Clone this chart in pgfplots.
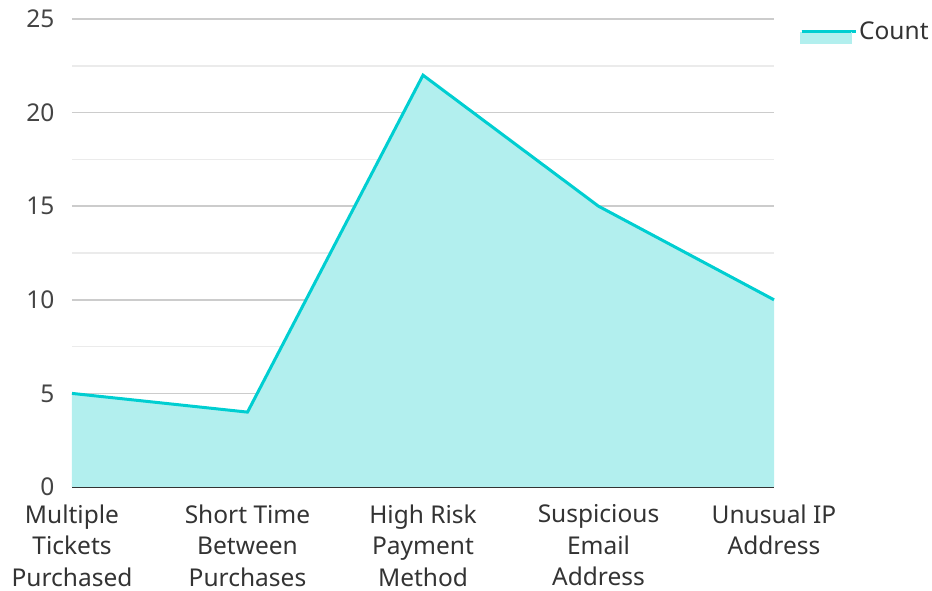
\documentclass[border=0pt]{standalone}
\usepackage{fontspec}
\setmainfont{Noto Sans}
\usepackage{pgfplots}
\pgfplotsset{compat=1.18}
\definecolor{tq}{RGB}{0,206,209}
\definecolor{tqfill}{RGB}{178,239,238}
\definecolor{majg}{RGB}{204,204,204}
\definecolor{ming}{RGB}{235,235,235}
\definecolor{txt}{RGB}{51,51,51}
\begin{document}
\begin{tikzpicture}[x=1pt,y=1pt]
\useasboundingbox (-72pt,-104pt) rectangle (860pt,487pt);
\begin{axis}[
  at={(0,0)}, anchor=south west,
  scale only axis, width=702pt, height=468pt,
  xmin=0, xmax=4, ymin=0, ymax=25,
  xtick={0,1,2,3,4},
  xticklabels={Multiple\\Tickets\\Purchased, Short Time\\Between\\Purchases, High Risk\\Payment\\Method, Suspicious\\Email\\Address, Unusual IP\\Address},
  ytick={0,5,10,15,20,25},
  minor ytick={2.5,7.5,12.5,17.5,22.5},
  major tick length=0pt, minor tick length=0pt,
  ymajorgrids, yminorgrids,
  major grid style={draw=majg, line width=1.6pt},
  minor grid style={draw=ming, line width=1.6pt},
  axis x line*=bottom, axis y line*=left,
  x axis line style={draw=txt, line width=2.2pt, -},
  y axis line style={draw=none},
  /pgf/number format/assume math mode=true,
  tick label style={font=\fontsize{24.5}{31.5}\selectfont, text=txt},
  xticklabel style={align=center, yshift=-14pt},
  yticklabel style={xshift=-14pt, text={rgb,255:red,68;green,68;blue,68}},
  legend style={draw=none, fill=none, at={(1.037,0.972)}, anchor=west, font=\fontsize{24.5}{28}\selectfont, text=txt, inner sep=0pt, legend cell align=left},
  legend image code/.code={
    \path (0pt,0pt) -- (54pt,0pt);
    \fill[tqfill] (0pt,-11pt) rectangle (49pt,-1.5pt);
    \draw[tq, line width=3pt] (0pt,0pt) -- (49pt,0pt);
  },
  clip=false,
]
\addplot[draw=none, fill=tqfill, forget plot] coordinates {(0,5) (1,4) (2,22) (3,15) (4,10)} \closedcycle;
\addplot[tq, line width=3pt] coordinates {(0,5) (1,4) (2,22) (3,15) (4,10)};
\addlegendentry{Count}
\end{axis}
\end{tikzpicture}
\end{document}
